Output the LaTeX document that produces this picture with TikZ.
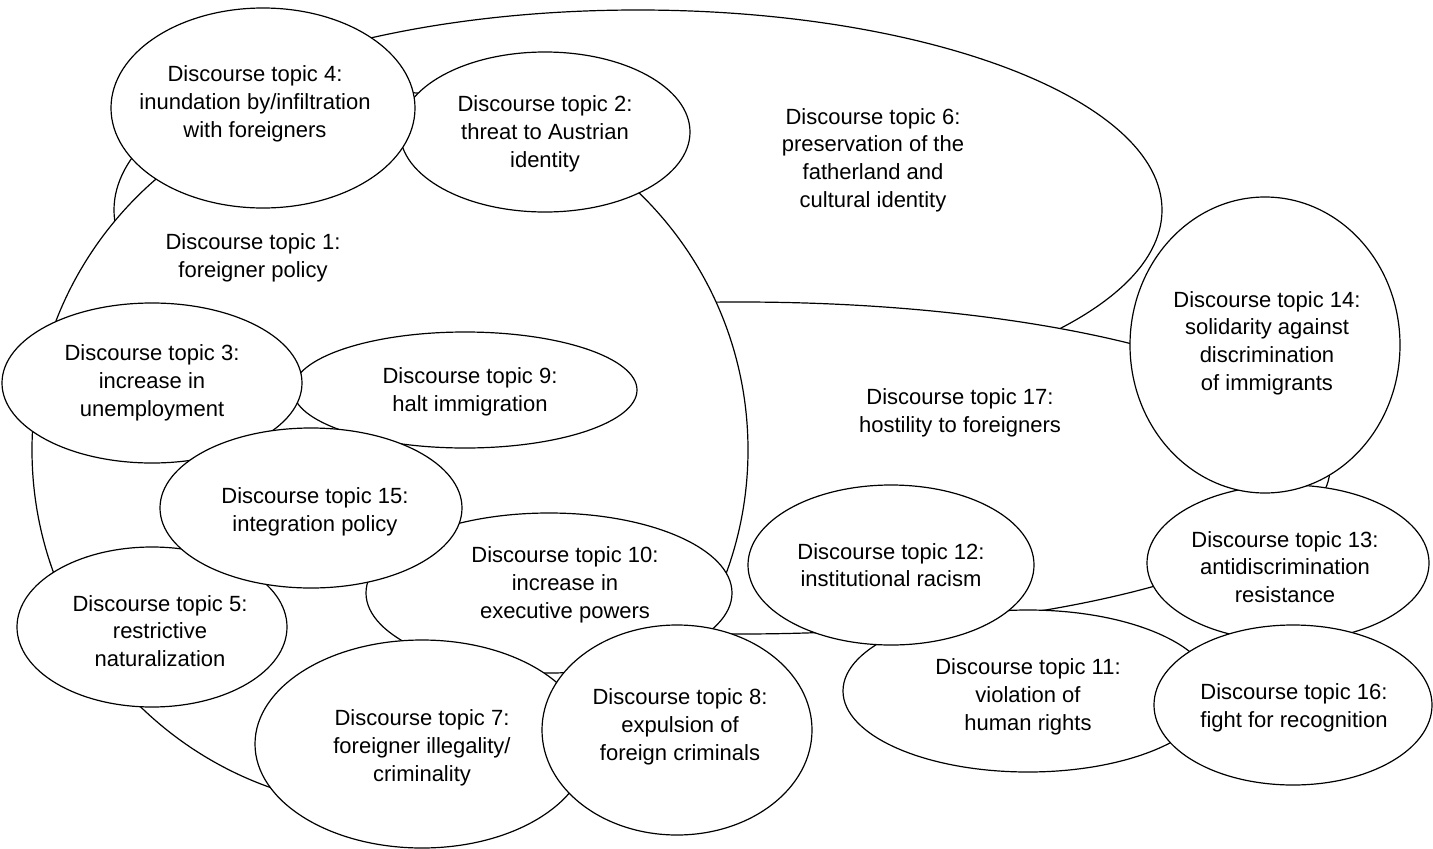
\documentclass[tikz,border=0pt]{standalone}
\usepackage{fontspec}
\setmainfont{Liberation Sans}
\usetikzlibrary{shapes.geometric}
\begin{document}
\begin{tikzpicture}[x=1pt,y=-1pt,
  topic/.style={draw=black, fill=white, ellipse, line width=1.2pt, inner sep=0pt},
  lbl/.style={align=center, font=\fontsize{22}{27.7}\selectfont, inner sep=0pt, yshift=-3pt}]
\path[use as bounding box, fill=white] (0,0) rectangle (1433,849);
% back layers
\node[topic, minimum width=1048pt, minimum height=400pt] (e6) at (638,210) {};
\node[topic, minimum width=1180pt, minimum height=332pt] (e17) at (740,468) {};
\node[topic, minimum width=716pt, minimum height=716pt] (e1) at (390,450) {};
\node[lbl] (t6) at (873,157) {Discourse topic 6:\\preservation of the\\fatherland and\\cultural identity};
\node[lbl] (t17) at (960,410) {Discourse topic 17:\\hostility to foreigners};
\node[lbl] (t1) at (253,255) {Discourse topic 1:\\foreigner policy};
% left cluster
\node[topic, minimum width=344pt, minimum height=116pt] (e9) at (465,390) {};
\node[topic, minimum width=300pt, minimum height=160pt] (e3) at (152,383) {};
\node[topic, minimum width=290pt, minimum height=160pt] (e2) at (545,132) {};
\node[topic, minimum width=304pt, minimum height=200pt] (e4) at (263,108) {};
\node[topic, minimum width=366pt, minimum height=160pt] (e10) at (549,593) {};
\node[topic, minimum width=270pt, minimum height=160pt] (e5) at (152,627) {};
\node[topic, minimum width=302pt, minimum height=160pt] (e15) at (311,508) {};
\node[topic, minimum width=334pt, minimum height=208pt] (e7) at (422,744) {};
\node[topic, minimum width=270pt, minimum height=210pt] (e8) at (677,730) {};
% right cluster
\node[topic, minimum width=370pt, minimum height=162pt] (e11) at (1028,691) {};
\node[topic, minimum width=286pt, minimum height=160pt] (e12) at (891,565) {};
\node[topic, minimum width=282pt, minimum height=156pt] (e13) at (1288,563) {};
\node[topic, minimum width=270pt, minimum height=296pt] (e14) at (1265,345) {};
\node[topic, minimum width=278pt, minimum height=160pt] (e16) at (1293,705) {};
% labels
\node[lbl] (t4) at (255,101) {Discourse topic 4:\\inundation by/infiltration\\with foreigners};
\node[lbl] (t2) at (545,131) {Discourse topic 2:\\threat to Austrian\\identity};
\node[lbl] (t3) at (152,380) {Discourse topic 3:\\increase in\\unemployment};
\node[lbl] (t9) at (470,389) {Discourse topic 9:\\halt immigration};
\node[lbl] (t15) at (315,509) {Discourse topic 15:\\integration policy};
\node[lbl] (t10) at (565,582) {Discourse topic 10:\\increase in\\executive powers};
\node[lbl] (t5) at (160,628) {Discourse topic 5:\\restrictive\\naturalization};
\node[lbl] (t7) at (422,745) {Discourse topic 7:\\foreigner illegality/\\criminality};
\node[lbl] (t8) at (680,724) {Discourse topic 8:\\expulsion of\\foreign criminals};
\node[lbl] (t12) at (891,562) {Discourse topic 12:\\institutional racism};
\node[lbl] (t11) at (1028,694) {Discourse topic 11:\\violation of\\human rights};
\node[lbl] (t14) at (1267,340) {Discourse topic 14:\\solidarity against\\discrimination\\of immigrants};
\node[lbl] (t13) at (1285,564) {Discourse topic 13:\\antidiscrimination\\resistance};
\node[lbl] (t16) at (1294,705) {Discourse topic 16:\\fight for recognition};
\end{tikzpicture}
\end{document}
